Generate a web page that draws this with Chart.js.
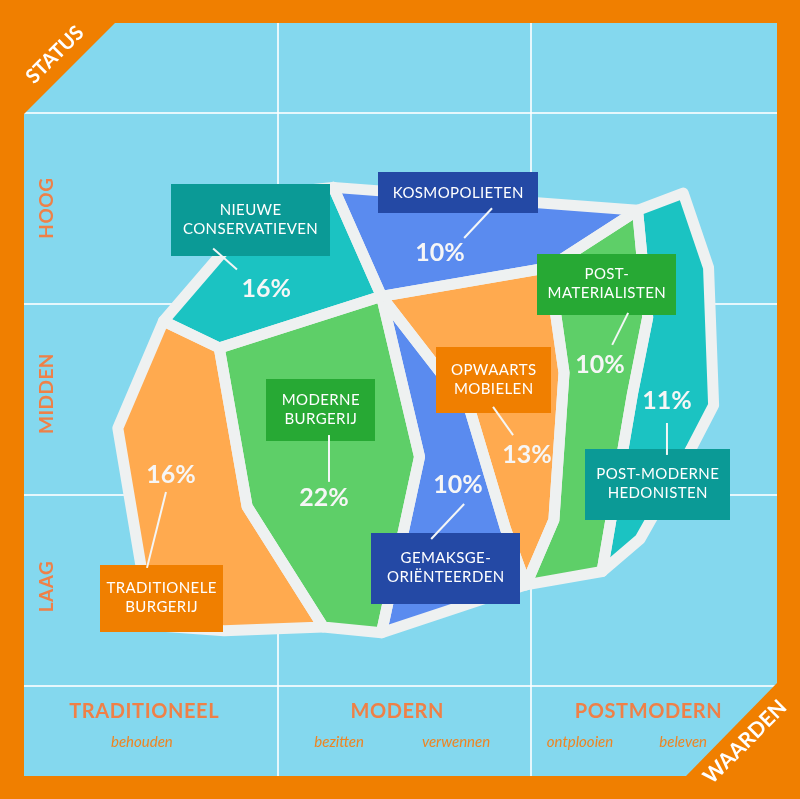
<!DOCTYPE html>
<html>
<head>
<meta charset="utf-8">
<script src="https://cdn.jsdelivr.net/npm/chart.js@4.4.1/dist/chart.umd.min.js"></script>
<style>
  html, body { margin: 0; padding: 0; background: #f07f00; }
</style>
</head>
<body>
<canvas id="mentalityMap" width="800" height="799"></canvas>
<script>
// x = waarden (0 traditioneel .. 3 postmodern), y = status (0 laag .. 3 hoog)
const segments = ["NIEUWE CONSERVATIEVEN", "KOSMOPOLIETEN", "POST-MATERIALISTEN", "OPWAARTS MOBIELEN",
  "POST-MODERNE HEDONISTEN", "GEMAKSGEORIËNTEERDEN", "MODERNE BURGERIJ", "TRADITIONELE BURGERIJ"];
const shares = [16, 10, 10, 13, 11, 10, 22, 16];
const boxText = [["NIEUWE", "CONSERVATIEVEN"], ["KOSMOPOLIETEN"], ["POST-", "MATERIALISTEN"], ["OPWAARTS", "MOBIELEN"],
  ["POST-MODERNE", "HEDONISTEN"], ["GEMAKSGE-", "ORIËNTEERDEN"], ["MODERNE", "BURGERIJ"], ["TRADITIONELE", "BURGERIJ"]];

// segment outlines
const nieuweConservatieven = [[0.55, 1.91], [0.79, 2.28], [0.93, 2.57], [1.22, 2.61], [1.41, 2.04], [0.77, 1.77]];
const kosmopolieten = [[1.22, 2.61], [2.42, 2.49], [2.07, 2.19], [1.41, 2.04]];
const postMaterialisten = [[2.07, 2.19], [2.42, 2.49], [2.46, 1.93], [2.40, 1.53], [2.28, 0.60], [1.98, 0.53], [2.09, 0.87], [2.13, 1.64], [2.10, 1.92]];
const opwaartsMobielen = [[1.41, 2.04], [2.07, 2.19], [2.10, 1.92], [2.13, 1.64], [2.09, 0.87], [1.98, 0.53], [1.90, 0.82], [1.76, 1.44]];
const postModerneHedonisten = [[2.42, 2.49], [2.60, 2.58], [2.70, 2.19], [2.72, 1.47], [2.63, 1.24], [2.43, 0.77], [2.28, 0.60], [2.40, 1.53], [2.46, 1.93]];
const gemaksgeorienteerden = [[1.41, 2.04], [1.76, 1.44], [1.90, 0.82], [1.98, 0.53], [1.41, 0.28], [1.56, 1.20]];
const moderneBurgerij = [[0.77, 1.77], [1.41, 2.04], [1.56, 1.20], [1.41, 0.28], [1.18, 0.31], [0.88, 0.94]];
const traditioneleBurgerij = [[0.55, 1.91], [0.77, 1.77], [0.88, 0.94], [1.18, 0.31], [0.79, 0.29], [0.48, 0.32], [0.46, 0.64], [0.37, 1.35]];

const outlines = [nieuweConservatieven, kosmopolieten, postMaterialisten, opwaartsMobielen,
  postModerneHedonisten, gemaksgeorienteerden, moderneBurgerij, traditioneleBurgerij];

const valueColumns = ["TRADITIONEEL", "MODERN", "POSTMODERN"];
const valueWords = ["behouden", "bezitten", "verwennen", "ontplooien", "beleven"];
const statusRows = ["HOOG", "MIDDEN", "LAAG"];

// colours
const ORANGE = "#f07f00";
const SKY = "#84d8ee";
const EDGE = "#eef1f1";
const CORAL = "#ef8047";
const fills = ["#1bc3c2", "#5a8bef", "#5ecf68", "#ffaa4f", "#1bc3c2", "#5a8bef", "#5ecf68", "#ffaa4f"];
const boxColors = ["#0b9a96", "#2449a5", "#27a934", "#f07f00", "#0b9a96", "#2449a5", "#27a934", "#f07f00"];

// where the callouts sit
const layout = {
  box: [[0.893, 2.44, 159, 72], [1.712, 2.582, 160, 41], [2.298, 2.102, 139, 61], [1.852, 1.602, 115, 66],
    [2.499, 1.055, 145, 71], [1.663, 0.616, 149, 71], [1.170, 1.445, 109, 62], [0.542, 0.459, 123, 67]],
  pct: [[0.955, 2.08], [1.641, 2.267], [2.272, 1.681], [1.984, 1.210], [2.536, 1.492], [1.712, 1.053], [1.183, 0.985], [0.580, 1.105]],
  leader: [[0.746, 2.29, 0.840, 2.18], [1.846, 2.501, 1.736, 2.345], [2.383, 1.953, 2.320, 1.786], [1.850, 1.461, 1.929, 1.314],
    [2.536, 1.377, 2.536, 1.210], [1.736, 0.953, 1.606, 0.770], [1.203, 1.314, 1.203, 1.069], [0.560, 1.016, 0.485, 0.619]],
  columnX: [0.473, 1.471, 2.462],
  wordX: [0.465, 1.243, 1.704, 2.193, 2.600],
  rowY: [2.5, 1.53, 0.52]
};

const datasets = outlines.map((pts, i) => ({
  label: segments[i],
  data: pts.concat([pts[0]]).map(p => ({ x: p[0], y: p[1] })),
  backgroundColor: fills[i],
  borderColor: EDGE,
  borderWidth: 11,
  borderJoinStyle: "round",
  borderCapStyle: "round",
  fill: "shape",
  tension: 0,
  pointRadius: 0
}));

function text(ctx, str, x, y, font, color, angle, spacing) {
  ctx.save();
  ctx.translate(x, y);
  if (angle) ctx.rotate(angle);
  ctx.font = font;
  ctx.fillStyle = color;
  ctx.textAlign = "center";
  ctx.textBaseline = "middle";
  if (spacing) {
    ctx.letterSpacing = spacing + "px";
    ctx.fillText(str, spacing / 2, 0);
  } else {
    ctx.fillText(str, 0, 0);
  }
  ctx.restore();
}

const mapDecor = {
  id: "mapDecor",
  beforeDraw(chart) {
    const { ctx, chartArea: a } = chart;
    ctx.save();
    ctx.fillStyle = ORANGE;
    ctx.fillRect(0, 0, chart.width, chart.height);
    ctx.fillStyle = SKY;
    ctx.fillRect(a.left, a.top, a.right - a.left, a.bottom - a.top);
    ctx.restore();
  },
  beforeDatasetsDraw(chart) {
    const { ctx, chartArea: a } = chart;
    ctx.save();
    ctx.fillStyle = ORANGE;
    ctx.beginPath();
    ctx.moveTo(a.left, a.top);
    ctx.lineTo(a.left + 91, a.top);
    ctx.lineTo(a.left, a.top + 91);
    ctx.closePath();
    ctx.fill();
    ctx.beginPath();
    ctx.moveTo(a.right, a.bottom);
    ctx.lineTo(a.right, a.bottom - 93);
    ctx.lineTo(a.right - 91, a.bottom);
    ctx.closePath();
    ctx.fill();
    ctx.restore();
  },
  afterDatasetsDraw(chart) {
    const { ctx } = chart;
    const sx = chart.scales.x, sy = chart.scales.y;
    const px = v => sx.getPixelForValue(v), py = v => sy.getPixelForValue(v);

    segments.forEach((name, i) => {
      const [bx, by, bw, bh] = layout.box[i];
      const cx = px(bx), cy = py(by);
      ctx.fillStyle = boxColors[i];
      ctx.fillRect(Math.round(cx - bw / 2), Math.round(cy - bh / 2), bw, bh);
      const lines = boxText[i];
      lines.forEach((ln, k) => {
        const off = lines.length === 1 ? 0 : (k === 0 ? -10 : 9);
        text(ctx, ln, cx, cy + off, "15px Lato", "#ffffff", 0, 0.4);
      });
      const [x1, y1, x2, y2] = layout.leader[i];
      ctx.save();
      ctx.strokeStyle = "#f4f6f6";
      ctx.lineWidth = 2;
      ctx.beginPath();
      ctx.moveTo(px(x1), py(y1));
      ctx.lineTo(px(x2), py(y2));
      ctx.stroke();
      ctx.restore();
      const [tx, ty] = layout.pct[i];
      text(ctx, shares[i] + "%", px(tx), py(ty), "bold 25px Lato", "#f6f6f6");
    });

    valueColumns.forEach((c, i) => text(ctx, c, px(layout.columnX[i]), py(-0.134), "bold 20px Lato", CORAL, 0, 0.6));
    valueWords.forEach((w, i) => text(ctx, w, px(layout.wordX[i]), py(-0.291), "italic 15px Lato", "#ee8422"));
    statusRows.forEach((r, i) => text(ctx, r, px(0.091), py(layout.rowY[i]), "bold 19px Lato", CORAL, -Math.PI / 2, 0.5));

    text(ctx, "STATUS", px(0.122), py(3.304), "bold 20px Lato", "#ffffff", -Math.PI / 4);
    text(ctx, "WAARDEN", px(2.844), py(-0.292), "bold 21px Lato", "#ffffff", -Math.PI / 4);
  }
};

new Chart(document.getElementById("mentalityMap"), {
  type: "line",
  data: { datasets },
  options: {
    responsive: false,
    animation: false,
    events: [],
    layout: { padding: { left: 24, top: 23, right: 23, bottom: 23 } },
    plugins: {
      legend: { display: false },
      tooltip: { enabled: false },
      filler: { drawTime: "beforeDatasetsDraw" }
    },
    scales: {
      x: {
        type: "linear", min: 0, max: 2.97,
        afterBuildTicks: s => { s.ticks = [1, 2].map(v => ({ value: v })); },
        ticks: { display: false },
        grid: { color: "rgba(255,255,255,0.8)", lineWidth: 2, drawTicks: false },
        border: { display: false }
      },
      y: {
        type: "linear", min: -0.47, max: 3.47,
        afterBuildTicks: s => { s.ticks = [0, 1, 2, 3].map(v => ({ value: v })); },
        ticks: { display: false },
        grid: { color: "rgba(255,255,255,0.8)", lineWidth: 2, drawTicks: false },
        border: { display: false }
      }
    }
  },
  plugins: [mapDecor]
});
</script>
</body>
</html>
